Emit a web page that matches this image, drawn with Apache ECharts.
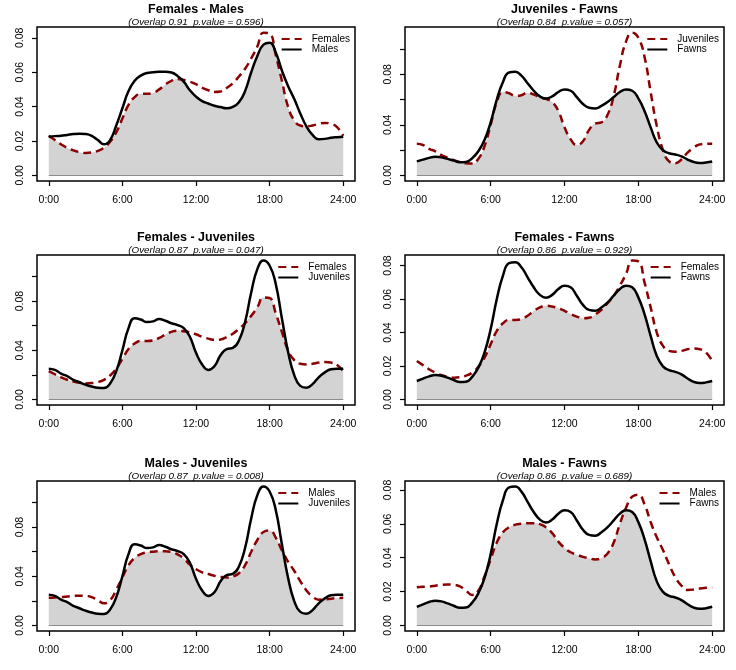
<!DOCTYPE html>
<html>
<head>
<meta charset="utf-8">
<script src="https://cdn.jsdelivr.net/npm/echarts@6/dist/echarts.min.js"></script>
<style>
html, body { margin: 0; padding: 0; background: #fff; }
#chart { width: 736px; height: 670px; }
</style>
</head>
<body>
<div id="chart"></div>
<script>
// time of day (hours), half-hour steps
var hours = [0, 0.5, 1, 1.5, 2, 2.5, 3, 3.5, 4, 4.5, 5, 5.5, 6, 6.5, 7, 7.5, 8, 8.5, 9, 9.5,
	10, 10.5, 11, 11.5, 12, 12.5, 13, 13.5, 14, 14.5, 15, 15.5, 16, 16.5, 17, 17.5, 18, 18.5, 19, 19.5,
	20, 20.5, 21, 21.5, 22, 22.5, 23, 23.5, 24];

// activity densities
var females = [0.023, 0.0205, 0.018, 0.016, 0.0145, 0.0135, 0.013, 0.0133, 0.0142, 0.016,
	0.0195, 0.025, 0.033, 0.041, 0.0455, 0.0475, 0.0475, 0.048, 0.050, 0.0528,
	0.055, 0.056, 0.0555, 0.0545, 0.053, 0.051, 0.0495, 0.0485, 0.0488, 0.0508,
	0.0535, 0.0575, 0.062, 0.068, 0.075, 0.083, 0.0825, 0.07, 0.055, 0.040,
	0.032, 0.029, 0.0285, 0.029, 0.030, 0.0305, 0.030, 0.028, 0.023];
var males = [0.0225, 0.0228, 0.023, 0.0235, 0.024, 0.0242, 0.024, 0.023, 0.0205, 0.018,
	0.0205, 0.029, 0.039, 0.049, 0.055, 0.058, 0.0595, 0.060, 0.0603, 0.0603,
	0.0598, 0.0578, 0.0545, 0.0495, 0.0458, 0.0432, 0.0418, 0.0405, 0.0397, 0.039,
	0.0398, 0.0425, 0.049, 0.060, 0.0695, 0.076, 0.0772, 0.0715, 0.061, 0.052,
	0.0445, 0.036, 0.0285, 0.0235, 0.021, 0.0212, 0.0218, 0.0222, 0.0225];
var juveniles = [0.025, 0.024, 0.021, 0.019, 0.016, 0.014, 0.012, 0.0105, 0.0095, 0.0093,
	0.013, 0.023, 0.040, 0.058, 0.066, 0.065, 0.063, 0.0635, 0.0655, 0.064,
	0.062, 0.0605, 0.058, 0.051, 0.038, 0.0285, 0.024, 0.027, 0.036, 0.041,
	0.042, 0.048, 0.063, 0.087, 0.106, 0.113, 0.109, 0.094, 0.066, 0.039,
	0.020, 0.011, 0.0095, 0.0125, 0.018, 0.022, 0.0245, 0.025, 0.025];
var fawns = [0.011, 0.0124, 0.0138, 0.0146, 0.0142, 0.013, 0.0116, 0.0104, 0.0106, 0.0135,
	0.019, 0.028, 0.042, 0.060, 0.074, 0.0815, 0.082, 0.079, 0.073, 0.067,
	0.0625, 0.0608, 0.0625, 0.066, 0.068, 0.067, 0.062, 0.0565, 0.0535, 0.053,
	0.055, 0.058, 0.062, 0.066, 0.068, 0.067, 0.061, 0.051, 0.038, 0.026,
	0.0198, 0.0175, 0.0165, 0.015, 0.0125, 0.0105, 0.0098, 0.0102, 0.011];

var groups = { Females: females, Males: males, Juveniles: juveniles, Fawns: fawns };

// panel pairs (first = dashed red, second = solid black)
var pairA = ['Females', 'Juveniles', 'Females', 'Females', 'Males', 'Males'];
var pairB = ['Males', 'Fawns', 'Juveniles', 'Fawns', 'Juveniles', 'Fawns'];
var subtitles = ['(Overlap 0.91  p.value = 0.596)', '(Overlap 0.84  p.value = 0.057)',
	'(Overlap 0.87  p.value = 0.047)', '(Overlap 0.86  p.value = 0.929)',
	'(Overlap 0.87  p.value = 0.008)', '(Overlap 0.86  p.value = 0.689)'];

// tick labels
var xTicks = [0, 6, 12, 18, 24];
var yTicksLow = [0, 0.02, 0.04, 0.06, 0.08];
var yTicksHigh = [0, 0.02, 0.04, 0.06, 0.08, 0.10];
var yLabelsHigh = [0, 0.04, 0.08];

// layout of the plot boxes
var colLeft = [37, 405], colWidth = [318, 319];
var rowTop = [27, 255, 481], rowHeight = [154, 150, 150];
var font = 'Liberation Sans, Arial, sans-serif';

var chart = echarts.init(document.getElementById('chart'));

var grids = [], xAxes = [], yAxes = [], series = [], titles = [], legends = [];

for (var i = 0; i < 6; i++) {
	var c = i % 2, r = Math.floor(i / 2);
	var a = groups[pairA[i]], b = groups[pairB[i]];
	var ov = a.map(function(v, k) { return Math.min(v, b[k]); });
	var M = Math.max(Math.max.apply(null, a), Math.max.apply(null, b));
	var high = M > 0.1;
	// series names are unique per panel, the suffix is cut off in the legend
	var nameA = pairA[i] + '#' + i, nameB = pairB[i] + '#' + i;

	grids.push({
		left: colLeft[c], top: rowTop[r], width: colWidth[c], height: rowHeight[r],
		show: true, borderColor: '#000', borderWidth: 1.5, backgroundColor: 'transparent'
	});

	xAxes.push({
		type: 'value', gridIndex: i, min: -0.96, max: 24.96,
		axisLine: { show: false, onZero: false },
		splitLine: { show: false },
		axisTick: { show: true, customValues: xTicks, length: 5, lineStyle: { color: '#000', width: 1.2 } },
		axisLabel: {
			customValues: xTicks, margin: 14, color: '#000', fontSize: 10.5, fontFamily: font,
			formatter: function(v) { return v + ':00'; }
		}
	});

	yAxes.push({
		type: 'value', gridIndex: i, min: -0.04 * M, max: 1.04 * M,
		axisLine: { show: false, onZero: false },
		splitLine: { show: false },
		axisTick: { show: true, customValues: high ? yTicksHigh : yTicksLow, length: 5, lineStyle: { color: '#000', width: 1.2 } },
		axisLabel: {
			customValues: high ? yLabelsHigh : yTicksLow, rotate: 90, margin: 11,
			color: '#000', fontSize: 10.5, fontFamily: font,
			formatter: function(v) { return v.toFixed(2); }
		}
	});

	series.push({
		type: 'line', name: 'overlap' + i, xAxisIndex: i, yAxisIndex: i, z: 1,
		data: hours.map(function(h, k) { return [h, ov[k]]; }),
		smooth: true, symbol: 'none', silent: true,
		lineStyle: { width: 0 },
		areaStyle: { color: '#d3d3d3', opacity: 1 },
		markLine: {
			silent: true, symbol: 'none', label: { show: false },
			lineStyle: { color: '#8c8c8c', width: 1, type: 'solid' },
			data: [[{ coord: [0, 0] }, { coord: [24, 0] }]]
		}
	});
	series.push({
		type: 'line', name: nameA, xAxisIndex: i, yAxisIndex: i, z: 2,
		data: hours.map(function(h, k) { return [h, a[k]]; }),
		smooth: true, symbol: 'none',
		lineStyle: { color: '#8b0000', width: 2.5, type: [8, 5] },
		itemStyle: { color: '#8b0000' }
	});
	series.push({
		type: 'line', name: nameB, xAxisIndex: i, yAxisIndex: i, z: 3,
		data: hours.map(function(h, k) { return [h, b[k]]; }),
		smooth: true, symbol: 'none',
		lineStyle: { color: '#000', width: 2.5 },
		itemStyle: { color: '#000' }
	});

	titles.push({
		text: pairA[i] + ' - ' + pairB[i],
		subtext: subtitles[i],
		left: colLeft[c] + colWidth[c] / 2, top: rowTop[r] - 23.5, textAlign: 'center',
		padding: 0, itemGap: 0,
		textStyle: { fontSize: 12.5, fontWeight: 'bold', color: '#000', fontFamily: font, lineHeight: 13 },
		subtextStyle: { fontSize: 9.8, fontStyle: 'italic', color: '#000', fontFamily: font, lineHeight: 11 }
	});

	legends.push({
		data: [nameA, nameB],
		orient: 'vertical', align: 'left',
		right: 736 - colLeft[c] - colWidth[c], top: rowTop[r] + 2,
		padding: 5, itemGap: 0.5, itemWidth: 20, itemHeight: 10,
		itemStyle: { opacity: 0 },
		formatter: function(name) { return name.split('#')[0]; },
		textStyle: { fontSize: 10, color: '#000', fontFamily: font, lineHeight: 10, padding: [0, 0, 0, 5] }
	});
}

chart.setOption({
	animation: false,
	backgroundColor: '#fff',
	title: titles,
	legend: legends,
	grid: grids,
	xAxis: xAxes,
	yAxis: yAxes,
	series: series
});
</script>
</body>
</html>
